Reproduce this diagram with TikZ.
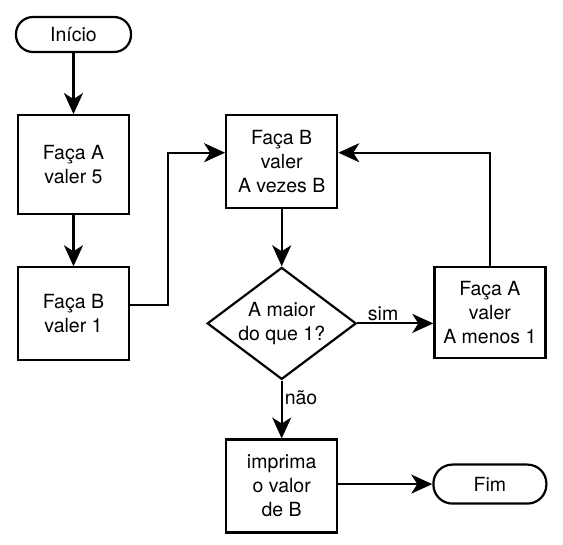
\documentclass[tikz,border=0pt]{standalone}
\usepackage{fontspec}
\setmainfont{TeX Gyre Heros}
\usepackage{tikz}
\usetikzlibrary{shapes.geometric,arrows.meta,positioning}

\begin{document}
\begin{tikzpicture}[
  x=1pt, y=-1pt,
  font=\fontsize{19.5}{24}\selectfont,
  term/.style={rectangle, rounded corners=17pt, draw=black, line width=2.2pt,
               minimum width=115pt, minimum height=35pt, inner sep=0pt},
  box/.style={rectangle, draw=black, line width=2.2pt, align=center,
              minimum width=111pt, minimum height=93pt, inner sep=0pt},
  cond/.style={diamond, draw=black, line width=2.2pt,
               minimum width=149pt, minimum height=112pt, inner sep=0pt},
  lbl/.style={inner sep=2pt},
  arr/.style={-{Stealth[length=21pt,width=19pt,inset=6pt]}, line width=2.2pt},
]
  \useasboundingbox (0,0) rectangle (563,545);

  \node[term] (inicio) at (73.5,34.5) {Início};
  \node[box, minimum height=99pt, below=61pt of inicio] (setA) {Faça A\\ valer 5};
  \node[box, below=51pt of setA] (setB) {Faça B\\ valer 1};
  \node[box, anchor=north west] (mult) at ([xshift=95pt]setA.north east)
    {Faça B\\ valer\\ A vezes B};
  \node[cond, below=57pt of mult,
        label={[align=center]center:A maior\\ do que 1?}] (test) {};
  \node[box, minimum height=91pt, anchor=north west] (decA)
    at ([xshift=95pt]mult.east |- test.north) {Faça A\\ valer\\ A menos 1};
  \node[box, below=58pt of test] (print) {imprima\\ o valor\\ de B};
  \node[term, minimum width=113pt, minimum height=39pt, rounded corners=19pt]
    (fim) at ([yshift=2pt]decA |- print) {Fim};

  \draw[arr] (inicio) -- (setA);
  \draw[arr] (setA) -- (setB);
  \draw[arr] ([yshift=9pt]setB.east) -- ++(38pt,0) |- ([yshift=9pt]mult.west);
  \draw[arr] (mult) -- (test);
  \draw[arr] (decA.north) |- ([yshift=9pt]mult.east);
  \draw[arr] (test.east) -- node[lbl, above, pos=0.34]{sim} (test.east -| decA.west);
  \draw[arr] (test) -- node[lbl, right, pos=0.3]{não} (print);
  \draw[arr] (print.east |- fim) -- (fim);
\end{tikzpicture}
\end{document}
